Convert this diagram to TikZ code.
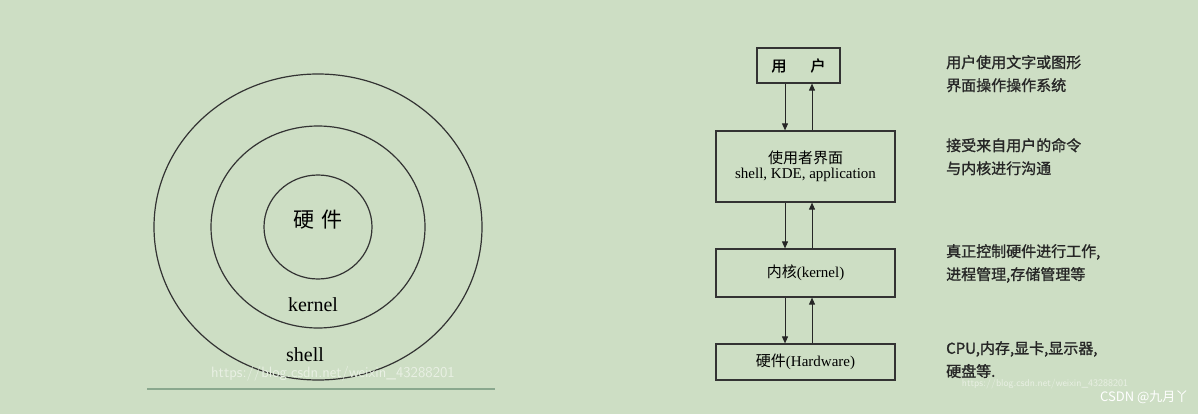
\documentclass[tikz,border=0pt]{standalone}
\usepackage{fontspec}
\setmainfont{Liberation Serif}
\newfontfamily\cjk{Noto Sans CJK SC}
\newfontfamily\cjkb{Noto Sans CJK SC}[FakeBold=1.2]
\usetikzlibrary{arrows.meta}
\definecolor{bg}{HTML}{CDDEC4}
\definecolor{rule}{HTML}{8AA88E}
\tikzset{
  box/.style={draw=black!80,line width=1.2pt,inner sep=0pt},
  arr/.style={draw=black!85,line width=1pt,-{Triangle[length=7pt,width=6pt]}},
  ring/.style={draw=black!80,line width=1.2pt},
  note/.style={anchor=north west,align=left,font=\cjkb\fontsize{15}{23}\selectfont,inner sep=0pt,text=black!85},
}
\begin{document}
\begin{tikzpicture}[x=1pt,y=-1pt]
\fill[bg] (0,0) rectangle (1198,414);
\useasboundingbox (0,0) rectangle (1198,414);
% circles
\coordinate (c) at (318,227);
\draw[ring] (c) ellipse [x radius=164,y radius=153];
\draw[ring] (c) ellipse [x radius=107,y radius=101];
\draw[ring] (c) ellipse [x radius=54,y radius=52];
\node (hw) at (318,220) {\cjk\fontsize{21}{21}\selectfont 硬\,\,件};
\node (kn) at (313,305) {\fontsize{20}{20}\selectfont kernel};
\node (sh) at (305,355) {\fontsize{20}{20}\selectfont shell};
\node[text=white!55!bg] (wm1) at (333,374) {\fontsize{15}{15}\sffamily https://blog.csdn.net/weixin\_43288201};
\draw[rule,line width=1.5pt] (147,389) -- (495,389);
% boxes
\node[box,minimum width=83pt,minimum height=35pt] (u) at (798.5,65.5) {\cjkb\fontsize{15}{15}\selectfont 用\hspace{1.6em}户};
\node[box,minimum width=179pt,minimum height=71pt,align=center] (ui) at (805.5,166.5)
  {\cjk\fontsize{15}{15}\selectfont 使用者界面\\[3pt]\fontsize{15}{15}\selectfont\rmfamily shell, KDE, application};
\node[box,minimum width=179pt,minimum height=48pt] (k) at (805.5,273) {{\cjk\fontsize{15}{15}\selectfont 内核}{\fontsize{15}{15}\selectfont(kernel)}};
\node[box,minimum width=179pt,minimum height=36pt] (h) at (805.5,362) {{\cjk\fontsize{15}{15}\selectfont 硬件}{\fontsize{15}{15}\selectfont(Hardware)}};
\draw[arr] (u.south -| 785,0) -- (ui.north -| 785,0);
\draw[arr] (ui.north -| 812,0) -- (u.south -| 812,0);
\draw[arr] (ui.south -| 785,0) -- (k.north -| 785,0);
\draw[arr] (k.north -| 812,0) -- (ui.south -| 812,0);
\draw[arr] (k.south -| 785,0) -- (h.north -| 785,0);
\draw[arr] (h.north -| 812,0) -- (k.south -| 812,0);
% notes
\node[note] (n1) at (946,55) {用户使用文字或图形\\界面操作操作系统};
\node[note] (n2) at (946,138) {接受来自用户的命令\\与内核进行沟通};
\node[note] (n3) at (946,244) {真正控制硬件进行工作,\\进程管理,存储管理等};
\node[note] (n4) at (946,341) {CPU,内存,显卡,显示器,\\硬盘等.};
\node[text=white!55!bg] (wm2) at (1045,384) {\fontsize{10}{10}\sffamily https://blog.csdn.net/weixin\_43288201};
\node[anchor=east,text=white] (csdn) at (1192,397) {\cjk\fontsize{13}{13}\selectfont CSDN @九月丫};
\end{tikzpicture}
\end{document}
